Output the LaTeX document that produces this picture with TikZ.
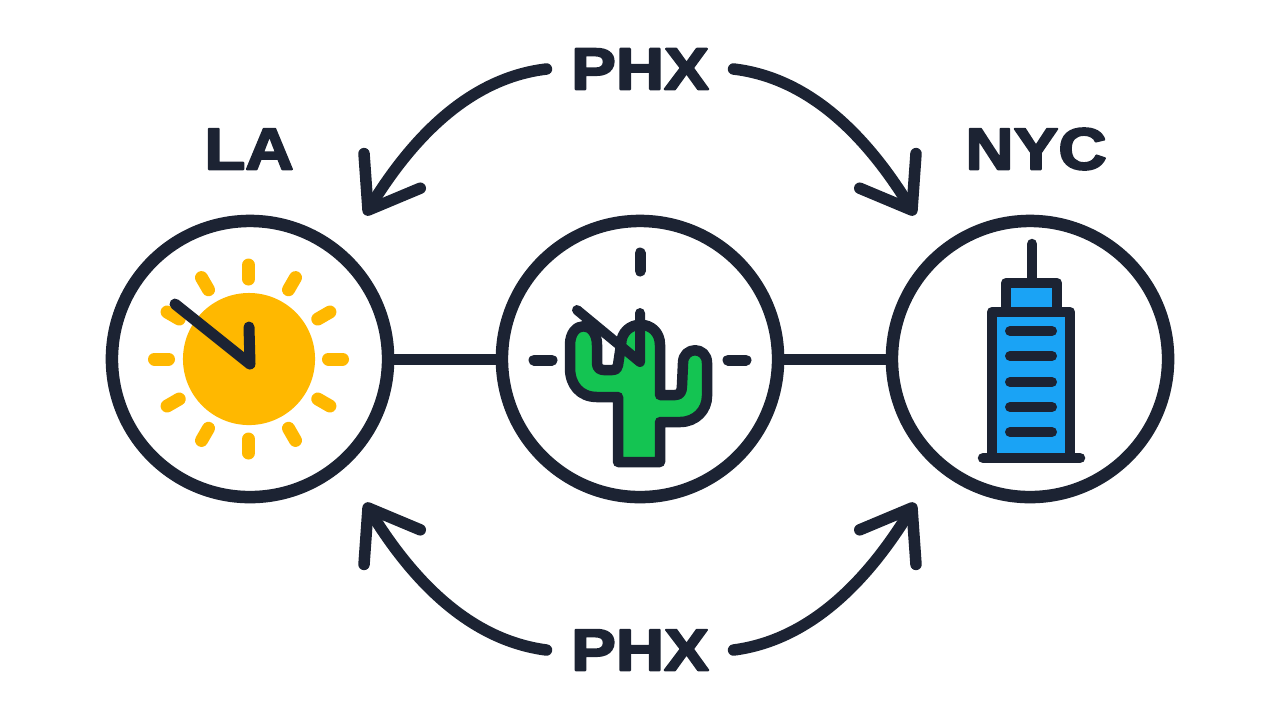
\documentclass[tikz,border=0pt]{standalone}
\usepackage{fontspec}
\usetikzlibrary{arrows.meta}
\newfontfamily\citylabelfont[BoldFeatures={FakeBold=3.6,FakeStretch=1.14}]{Liberation Sans}
\definecolor{inkdark}{HTML}{1C2333}
\definecolor{sunyellow}{HTML}{FFB800}
\definecolor{cactusgreen}{HTML}{14C452}
\definecolor{towerblue}{HTML}{1AA3F5}

\begin{document}
\begin{tikzpicture}[x=0.01cm,y=-0.01cm,cap=round,join=round,>={Straight Barb[length=.46cm,width=.66cm,round]},
    clockring/.style={circle,draw=inkdark,line width=.125cm,minimum size=2.76cm,inner sep=0pt,outer sep=0pt},
    citylabel/.style={text=inkdark,inner xsep=.24cm,inner ysep=0pt,font=\citylabelfont\bfseries\fontsize{16.7}{20}\selectfont},
    linkline/.style={draw=inkdark,line width=.11cm,cap=butt},
    flowarrow/.style={draw=inkdark,line width=.115cm,->},
    hand/.style={draw=inkdark,line width=.11cm},
    tick/.style={draw=inkdark,line width=.11cm},
    sunray/.style={draw=sunyellow,line width=.13cm},
    outline/.style={draw=inkdark,line width=.105cm}]
    \useasboundingbox (0,0) rectangle (1280,720);

    % draw the three clock rings
    \node[clockring] (la) at (250,359) {};
    \node[clockring] (phx) at (640,359) {};
    \node[clockring] (nyc) at (1030,359) {};

    % draw the links between them
    \draw[linkline] (la) -- (phx);
    \draw[linkline] (phx) -- (nyc);

    % draw the labels
    \node[citylabel] (lalabel) at (249,149) {LA};
    \node[citylabel] (nyclabel) at (1036,149) {NYC};
    \node[citylabel] (phxtop) at (640,69) {PHX};
    \node[citylabel] (phxbottom) at (640,650) {PHX};

    %coordinates for arrow tips
    \coordinate (tiptopla) at (365,215);
    \coordinate (tiptopnyc) at (915,215);
    \coordinate (tipbottomla) at (365,503);
    \coordinate (tipbottomnyc) at (915,503);

    %top arrows
    \draw[flowarrow] (phxtop.west) .. controls (470,78) and (413,137) .. (tiptopla);
    \draw[flowarrow] (phxtop.east) .. controls (810,78) and (867,137) .. (tiptopnyc);

    %bottom arrows
    \draw[flowarrow] (phxbottom.west) .. controls (470,640) and (413,581) .. (tipbottomla);
    \draw[flowarrow] (phxbottom.east) .. controls (810,640) and (867,581) .. (tipbottomnyc);

    %sun
    \fill[sunyellow] (249,359) circle (.66cm);
    \foreach \a in {0,30,...,330} {
        \draw[sunray] (248.5,359) ++(\a:80) -- ++(\a:14);
    }
    \draw[hand] (175,304) -- (250,364) -- (249,327);

    %cactus
    \draw[outline,fill=cactusgreen] (618,462) -- (660,462) -- (660,422) -- (680,422)
        .. controls (696,422) and (707,410) .. (707,396) -- (707,363)
        .. controls (707,346) and (683,346) .. (683,363) -- (682,385)
        .. controls (682,392) and (680,395) .. (675,395) -- (660,395) -- (660,345)
        .. controls (660,318) and (621,318) .. (621,345) -- (618,365)
        .. controls (618,368) and (616,370) .. (612,370) -- (604,370)
        .. controls (600,370) and (597,368) .. (597,363) -- (597,345)
        .. controls (597,320) and (570,320) .. (570,345) -- (570,368)
        .. controls (570,385) and (580,397) .. (597,397) -- (618,397) -- cycle;

    %ticks and hands of the middle clock
    \draw[tick] (640,253) -- (640,271);
    \draw[tick] (534,360) -- (552,360);
    \draw[tick] (728,360) -- (746,360);
    \draw[hand,line width=.1cm] (577,310) -- (640,362) -- (640,313);

    %tower
    \draw[outline] (1032,244) -- (1032,280);
    \draw[outline,fill=towerblue] (1006,283) rectangle (1057,312);
    \draw[outline,fill=towerblue] (992,312) rectangle (1070,458);
    \draw[outline] (983,458) -- (1080,458);
    \foreach \y in {331,356,382,407,432} {
        \draw[outline,line width=.1cm] (1010,\y) -- (1052,\y);
    }
\end{tikzpicture}
\end{document}
